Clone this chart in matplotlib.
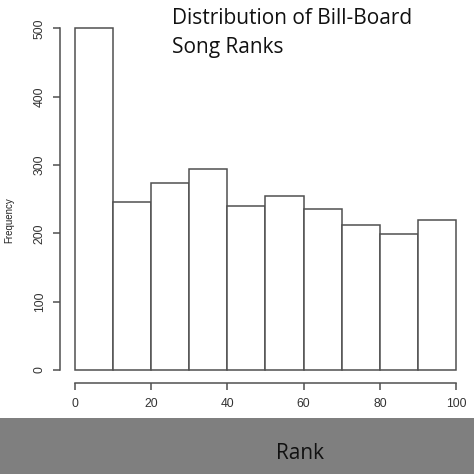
import matplotlib
matplotlib.use("Agg")
import matplotlib.pyplot as plt
import numpy as np

bin_edges = [0, 10, 20, 30, 40, 50, 60, 70, 80, 90, 100]
counts = [500, 246, 274, 294, 240, 254, 236, 212, 199, 220]
x_ticks = [0, 20, 40, 60, 80, 100]
y_ticks = [0, 100, 200, 300, 400, 500]
title_lines = ["Distribution of Bill-Board", "Song Ranks"]
x_label = "Rank"
y_label = "Frequency"

W = H = 474
fig = plt.figure(figsize=(W / 100, H / 100), dpi=100)

# gray band at the bottom
band = fig.add_axes([0, 0, 1, (474 - 418) / 474])
band.set_facecolor("#7f7f7f")
band.set_xticks([]); band.set_yticks([])
for s in band.spines.values():
    s.set_visible(False)
band.text(0.633, 0.27, x_label, transform=band.transAxes, ha="center", va="baseline",
          fontsize=15, family=["Open Sans", "DejaVu Sans"], color="#111111")

left, right = 74.7, 456.2
top, bottom = 28.3, 370
ax = fig.add_axes([left / W, (H - bottom) / H, (right - left) / W, (bottom - top) / H])
ax.set_facecolor("none")
ax.set_xlim(0, 100)
ax.set_ylim(0, 500)

line_col = "#505050"
widths = np.diff(bin_edges)
ax.bar(bin_edges[:-1], counts, width=widths, align="edge", color="white",
       edgecolor=line_col, linewidth=1.1, clip_on=False)

for s in ["top", "right"]:
    ax.spines[s].set_visible(False)
ax.spines["left"].set_position(("outward", 10.6))
ax.spines["bottom"].set_position(("outward", 9.6))
ax.spines["left"].set_bounds(0, 500)
ax.spines["bottom"].set_bounds(0, 100)
for s in ["left", "bottom"]:
    ax.spines[s].set_color(line_col)
    ax.spines[s].set_linewidth(1.1)

ax.set_xticks(x_ticks)
ax.set_yticks(y_ticks)
ax.tick_params(axis="both", length=5.3, width=1.1, color=line_col, labelcolor="#333333",
               labelsize=8.7)
ax.tick_params(axis="x", pad=5)
ax.tick_params(axis="y", pad=5)
for lab in ax.get_yticklabels():
    lab.set_rotation(90)
    lab.set_va("center")
for lab in ax.get_xticklabels() + ax.get_yticklabels():
    lab.set_family(["Liberation Sans", "DejaVu Sans"])

fig.text(9 / W, 1 - 220 / H, y_label, rotation=90, ha="center", va="center",
         fontsize=7, family=["Liberation Sans", "DejaVu Sans"], color="#222222")

for i, line in enumerate(title_lines):
    fig.text(172 / W, 1 - (24 + 28.7 * i) / H, line, ha="left", va="baseline", fontsize=15,
             family=["Open Sans", "DejaVu Sans"], color="#111111")

fig.savefig("out.png", dpi=100)
